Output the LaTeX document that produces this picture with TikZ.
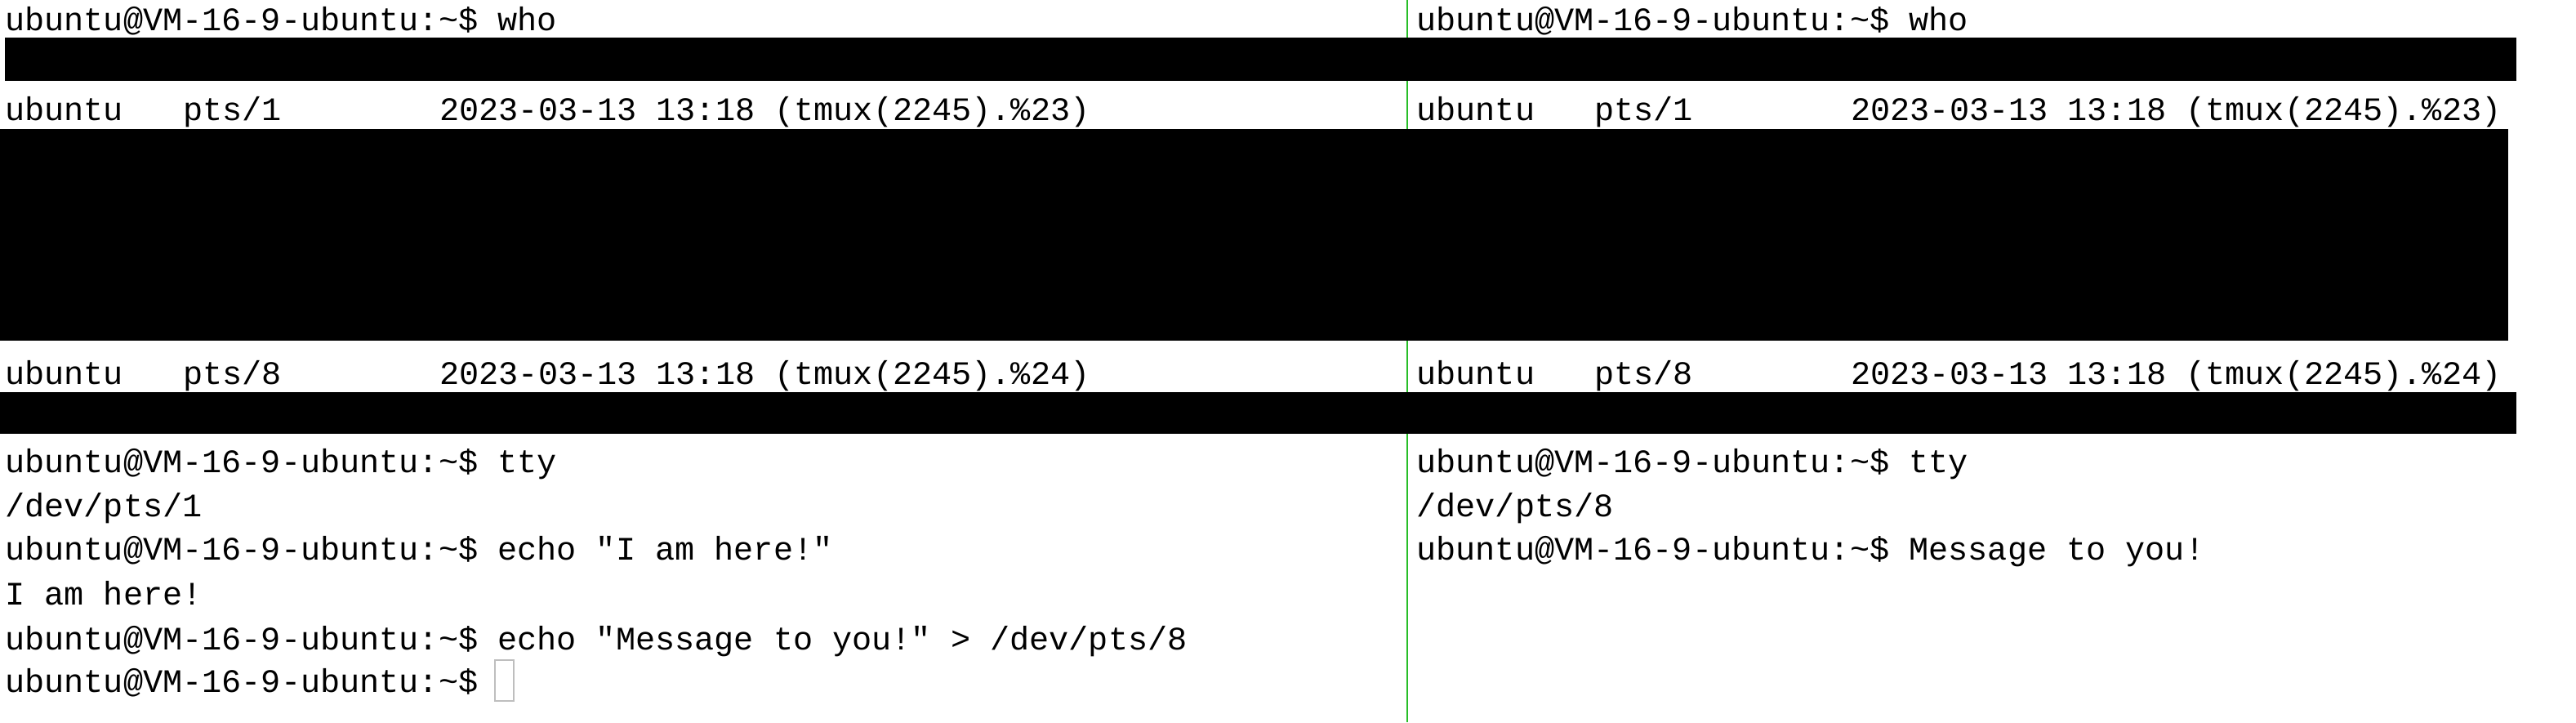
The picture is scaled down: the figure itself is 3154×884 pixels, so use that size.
\documentclass[tikz,border=0pt]{standalone}
\usepackage{fontspec}
\setmonofont{Liberation Mono}
\definecolor{divgreen}{RGB}{40,190,40}
\definecolor{cursorgray}{RGB}{190,190,190}
\begin{document}
\begin{tikzpicture}[x=0.5pt,y=-0.5pt,
  term/.style={anchor=base west,inner sep=0pt,font=\ttfamily\fontsize{20.1}{24}\selectfont},
  redact/.style={fill=black,draw=none}]
\useasboundingbox (0,0) rectangle (3154,884);
\fill[white] (0,0) rectangle (3154,884);
\draw[divgreen,line width=1.2pt] (1723,0) -- (1723,884);
% left pane
\node[term] (l1) at (6,37) {ubuntu@VM-16-9-ubuntu:\string~\$ who};
\node[term] (l2a) at (6,147) {ubuntu};
\node[term] (l2b) at (224,147) {pts/1};
\node[term] (l2c) at (538,147) {2023-03-13 13:18 (tmux(2245).\%23)};
\node[term] (l3a) at (6,470) {ubuntu};
\node[term] (l3b) at (224,470) {pts/8};
\node[term] (l3c) at (538,470) {2023-03-13 13:18 (tmux(2245).\%24)};
\node[term] (l4) at (6,578) {ubuntu@VM-16-9-ubuntu:\string~\$ tty};
\node[term] (l5) at (6,632) {/dev/pts/1};
\node[term] (l6) at (6,685) {ubuntu@VM-16-9-ubuntu:\string~\$ echo "I am here!"};
\node[term] (l7) at (6,740) {I am here!};
\node[term] (l8) at (6,795) {ubuntu@VM-16-9-ubuntu:\string~\$ echo "Message to you!" > /dev/pts/8};
\node[term] (l9) at (6,847) {ubuntu@VM-16-9-ubuntu:\string~\$};
\draw[cursorgray,line width=1pt] (606,808) rectangle (629,858);
% right pane
\node[term] (r1) at (1734,37) {ubuntu@VM-16-9-ubuntu:\string~\$ who};
\node[term] (r2a) at (1734,147) {ubuntu};
\node[term] (r2b) at (1952,147) {pts/1};
\node[term] (r2c) at (2266,147) {2023-03-13 13:18 (tmux(2245).\%23)};
\node[term] (r3a) at (1734,470) {ubuntu};
\node[term] (r3b) at (1952,470) {pts/8};
\node[term] (r3c) at (2266,470) {2023-03-13 13:18 (tmux(2245).\%24)};
\node[term] (r4) at (1734,578) {ubuntu@VM-16-9-ubuntu:\string~\$ tty};
\node[term] (r5) at (1734,632) {/dev/pts/8};
\node[term] (r6) at (1734,685) {ubuntu@VM-16-9-ubuntu:\string~\$ Message to you!};
% redaction bars
\fill[redact] (6,46) rectangle (3081,99);
\fill[redact] (0,158) rectangle (3071,417);
\fill[redact] (0,480) rectangle (3081,531);
\end{tikzpicture}
\end{document}
